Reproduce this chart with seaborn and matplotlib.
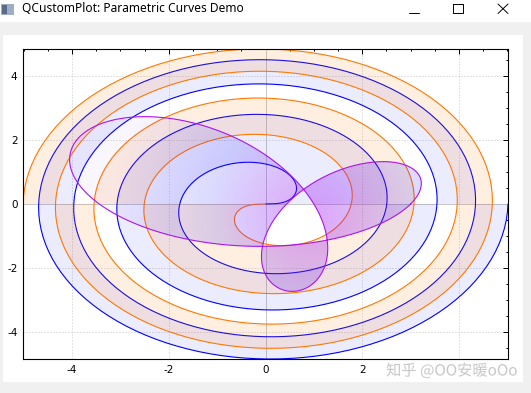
import numpy as np
import matplotlib
matplotlib.use("Agg")
import matplotlib.pyplot as plt
from matplotlib.path import Path
from matplotlib.patches import Rectangle
from matplotlib.lines import Line2D
from matplotlib.ticker import MultipleLocator
import matplotlib.patheffects as pe
import seaborn as sns

# curve definitions (QCustomPlot parametric demo)
point_count = 500
spiral_turns = 4            # phi runs over 0 .. 2*pi*turns
deltoid_cos = [2, 1]        # x = 2cos(2t) + cos(t) + 2sin(t)
deltoid_sin = [2, -1]       # y = 2sin(2t) - sin(t)
deltoid_shift = 2

t = np.arange(point_count) / (point_count - 1)
phi = t * 2 * np.pi * spiral_turns
theta = t * 2 * np.pi
spiral1_x = np.sqrt(phi) * np.cos(phi)
spiral1_y = np.sqrt(phi) * np.sin(phi)
spiral2_x = -spiral1_x
spiral2_y = -spiral1_y
deltoid_x = deltoid_cos[0] * np.cos(2 * theta) + deltoid_cos[1] * np.cos(theta) + deltoid_shift * np.sin(theta)
deltoid_y = deltoid_sin[0] * np.sin(2 * theta) + deltoid_sin[1] * np.sin(theta)

blue = (0, 0, 1)
orange = (1, 120 / 255, 0)
purple = (170 / 255, 20 / 255, 240 / 255)
grad_stops = [0, 0.5, 1]
grad_colors = [(170, 20, 240, 100), (20, 10, 255, 40), (120, 20, 240, 10)]

W, H = 531, 393
sns.set_style("white")
plt.rcParams["axes.unicode_minus"] = False
fig = plt.figure(figsize=(W / 100, H / 100), dpi=100, facecolor=(240 / 255,) * 3)


def px_rect(x0, y0, x1, y1, **kw):
    fig.patches.append(Rectangle((x0 / W, 1 - y1 / H), (x1 - x0) / W, (y1 - y0) / H,
                                 transform=fig.transFigure, zorder=-5, **kw))


def px_line(xs, ys, **kw):
    fig.lines.append(Line2D([x / W for x in xs], [1 - y / H for y in ys],
                            transform=fig.transFigure, zorder=-4, **kw))


# window chrome
px_rect(0, 0, W, 22, facecolor="white", edgecolor="none")
px_rect(3, 35, 523, 382, facecolor="white", edgecolor="none")
px_rect(1, 4, 14, 15, facecolor=(0.62, 0.68, 0.75), edgecolor="none")
px_rect(2, 5, 7, 14, facecolor=(0.35, 0.42, 0.55), edgecolor="none")
fig.text(22 / W, 1 - 9 / H, "QCustomPlot: Parametric Curves Demo", fontsize=8.6,
         family="Noto Sans", va="center", ha="left", color="black")
px_line([409, 419], [12.5, 12.5], color="black", lw=0.7)
px_line([453, 463, 463, 453, 453], [4, 4, 13, 13, 4], color="black", lw=0.7)
px_line([498, 508], [4, 13.5], color="black", lw=0.7)
px_line([498, 508], [13.5, 4], color="black", lw=0.7)

ax_l, ax_r, ax_t, ax_b = 23, 508, 49, 359
ax = fig.add_axes([ax_l / W, 1 - ax_b / H, (ax_r - ax_l) / W, (ax_b - ax_t) / H])
ax.set_facecolor("none")

xmin = min(spiral1_x.min(), spiral2_x.min())
xmax = max(spiral1_x.max(), spiral2_x.max())
ymin = min(spiral1_y.min(), spiral2_y.min())
ymax = max(spiral1_y.max(), spiral2_y.max())
ax.set_xlim(xmin, xmax)
ax.set_ylim(ymin, ymax)

# grid + zero lines
grey = (200 / 255,) * 3
ax.set_axisbelow(True)
ax.grid(True, which="major", color=grey, linestyle=(0, (1, 2)), linewidth=0.72)
ax.axhline(0, color=grey, lw=0.72, zorder=0.6)
ax.axvline(0, color=grey, lw=0.72, zorder=0.6)

# sample grid for odd-even fills
ss = 3
nx, ny = (ax_r - ax_l) * ss, (ax_b - ax_t) * ss
gx = xmin + (np.arange(nx) + 0.5) / nx * (xmax - xmin)
gy = ymax - (np.arange(ny) + 0.5) / ny * (ymax - ymin)
GX, GY = np.meshgrid(gx, gy)
pts = np.column_stack([GX.ravel(), GY.ravel()])


def oddeven_mask(x, y):
    return Path(np.column_stack([x, y])).contains_points(pts).reshape(ny, nx)


def flat_fill(x, y, rgb, alpha, z):
    img = np.zeros((ny, nx, 4))
    img[..., :3] = rgb
    img[..., 3] = np.where(oddeven_mask(x, y), alpha, 0)
    ax.imshow(img, extent=[xmin, xmax, ymin, ymax], origin="upper", aspect="auto",
              interpolation="antialiased", zorder=z)


flat_fill(spiral1_x, spiral1_y, blue, 20 / 255, 1)
sns.lineplot(x=spiral1_x, y=spiral1_y, sort=False, estimator=None, color=blue,
             lw=0.8, ax=ax, zorder=2)
flat_fill(spiral2_x, spiral2_y, orange, 30 / 255, 3)
sns.lineplot(x=spiral2_x, y=spiral2_y, sort=False, estimator=None, color=orange,
             lw=0.8, ax=ax, zorder=4)

# radial gradient fill for deltoid (centre/radius in widget pixels)
disp = ax.transData.transform(pts)
sx = disp[:, 0]
sy = H - disp[:, 1]
d = np.clip(np.hypot(sx - 313, sy - 215) / 200, 0, 1).reshape(ny, nx)
gc = np.array(grad_colors, float) / 255
prem = np.column_stack([gc[:, :3] * gc[:, 3:4], gc[:, 3]])
img = np.stack([np.interp(d, grad_stops, prem[:, k]) for k in range(4)], axis=-1)
a = img[..., 3:4]
img[..., :3] = np.where(a > 0, img[..., :3] / np.maximum(a, 1e-9), 0)
img[..., 3] *= oddeven_mask(deltoid_x, deltoid_y)
ax.imshow(img, extent=[xmin, xmax, ymin, ymax], origin="upper", aspect="auto",
          interpolation="antialiased", zorder=5)
sns.lineplot(x=deltoid_x, y=deltoid_y, sort=False, estimator=None, color=purple,
             lw=0.8, ax=ax, zorder=6)
ax.set_xlim(xmin, xmax)
ax.set_ylim(ymin, ymax)

# axes box
ax.xaxis.set_major_locator(MultipleLocator(2))
ax.yaxis.set_major_locator(MultipleLocator(2))
ax.xaxis.set_minor_locator(MultipleLocator(0.5))
ax.yaxis.set_minor_locator(MultipleLocator(0.5))
ax.tick_params(which="both", direction="in", top=True, right=True, width=0.72,
               color="black", labelsize=7.5, labelcolor="black")
ax.tick_params(which="major", length=3.6, pad=4)
ax.tick_params(which="minor", length=1.5)
ax.set_xlabel("")
ax.set_ylabel("")
for s in ax.spines.values():
    s.set_linewidth(0.8)
    s.set_color("black")
    s.set_zorder(10)

fig.text(386 / W, 1 - 371 / H, "知乎 @OO安暖oOo", fontsize=11,
         family=["Noto Sans CJK SC", "DejaVu Sans"], va="center", ha="left",
         color=(0.78, 0.78, 0.78),
         path_effects=[pe.withStroke(linewidth=2, foreground="white")])

fig.savefig("out.png", dpi=100, facecolor=fig.get_facecolor())
